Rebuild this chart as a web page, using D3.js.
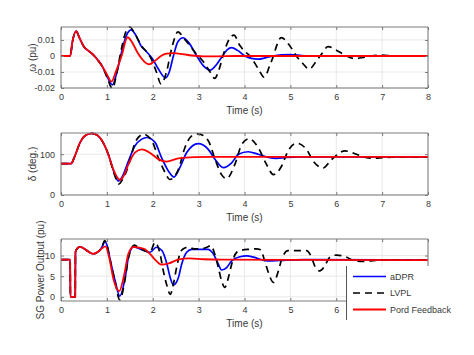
<!DOCTYPE html>
<html><head><meta charset="utf-8">
<script src="https://cdn.jsdelivr.net/npm/d3@7"></script>
<style>
html,body{margin:0;padding:0;background:#fff;}
svg{display:block;font-family:"Liberation Sans",Arial,sans-serif;}
</style></head>
<body>
<svg id="chart" width="474" height="355"></svg>
<script>
// ---------------- DATA ----------------
const timeTicks = [0,1,2,3,4,5,6,7,8];
const omegaTicks = [-0.02,-0.01,0,0.01];
const omegaTickLabels = ["-0.02","-0.01","0","0.01"];
const deltaTicks = [0,100];
const powerTicks = [0,5,10];
const seriesNames = ["aDPR","LVPL","Pord Feedback"];
const axisLabels = ["ω (pu)","δ (deg.)","SG Power Output (pu)"];
const xLabel = "Time (s)";

// rotor speed deviation (pu)
const omega_aDPR = [[0,0],[0.2,0],[0.25,0.009],[0.33,0.0155],[0.4,0.0115],[0.5,0.0058],[0.6,0.0032],[0.7,0.0008],[0.8,-0.0025],[0.9,-0.0065],[1.0,-0.0125],[1.12,-0.018],[1.22,-0.01],[1.3,0],[1.42,0.0125],[1.53,0.0163],[1.62,0.0135],[1.75,0.006],[1.87,0.0025],[2.0,-0.002],[2.12,-0.008],[2.28,-0.0137],[2.36,-0.01],[2.45,0],[2.55,0.009],[2.66,0.0114],[2.78,0.0085],[2.96,0],[3.1,-0.006],[3.26,-0.0088],[3.4,-0.005],[3.52,0],[3.62,0.0038],[3.72,0.0052],[3.85,0.0035],[4.01,0],[4.15,-0.0015],[4.3,-0.002],[4.45,-0.0012],[4.62,0],[4.8,0.0007],[5.0,0.0009],[5.25,0.0003],[5.5,0],[8,0]];
const omega_LVPL = [[0,0],[0.2,0],[0.25,0.009],[0.33,0.0155],[0.4,0.0115],[0.5,0.0058],[0.6,0.0032],[0.7,0.0008],[0.8,-0.0025],[0.9,-0.0065],[1.0,-0.013],[1.12,-0.0203],[1.22,-0.01],[1.3,0.002],[1.4,0.014],[1.5,0.0181],[1.6,0.0145],[1.75,0.0065],[1.87,0.0025],[1.97,-0.002],[2.08,-0.01],[2.18,-0.0175],[2.3,-0.01],[2.41,0.0044],[2.55,0.015],[2.68,0.011],[2.78,0.0075],[2.92,0.0023],[3.1,-0.0035],[3.25,-0.01],[3.35,-0.014],[3.45,-0.008],[3.53,0],[3.64,0.009],[3.77,0.013],[3.9,0.0065],[4.0,0.003],[4.12,0],[4.3,-0.008],[4.43,-0.0133],[4.55,-0.006],[4.63,0],[4.7,0.0063],[4.8,0.0115],[4.99,0.0063],[5.13,0],[5.28,-0.005],[5.41,-0.0082],[5.57,-0.003],[5.68,0.0012],[5.82,0.0058],[6.04,0.003],[6.22,0],[6.4,-0.0016],[6.62,-0.0008],[6.95,0.0005],[7.3,0],[8,0]];
const omega_Pord = [[0,0],[0.2,0],[0.25,0.009],[0.33,0.0155],[0.4,0.0115],[0.5,0.0058],[0.6,0.0032],[0.7,0.0008],[0.8,-0.0025],[0.9,-0.0065],[1.0,-0.0115],[1.1,-0.016],[1.2,-0.0095],[1.32,0],[1.45,0.0117],[1.55,0.0085],[1.68,0.0015],[1.8,-0.003],[1.92,-0.0052],[2.05,-0.003],[2.18,0],[2.3,0.0014],[2.45,0.0018],[2.65,0.0012],[2.85,0.0003],[3.1,-0.0002],[3.4,-0.0002],[3.8,0],[8,0]];

// rotor angle (deg.)
const delta_aDPR = [[0,77],[0.22,77],[0.3,95],[0.41,127],[0.52,145],[0.67,151],[0.8,146],[0.89,134],[1.03,100],[1.15,58],[1.25,34],[1.32,42],[1.47,83],[1.61,120],[1.76,137],[1.87,141],[2.05,129],[2.19,92],[2.34,59],[2.46,44],[2.59,67],[2.74,104],[2.99,126],[3.21,112],[3.36,87],[3.54,67],[3.72,79],[3.87,100],[4.08,106],[4.3,100],[4.5,93],[4.7,90],[4.9,92],[5.2,93.5],[8,93.5]];
const delta_LVPL = [[0,77],[0.22,77],[0.3,95],[0.41,127],[0.52,145],[0.67,151],[0.8,146],[0.89,134],[1.03,100],[1.15,55],[1.26,27],[1.35,40],[1.43,59],[1.54,100],[1.61,128],[1.8,149],[1.98,133],[2.12,92],[2.27,55],[2.37,38],[2.56,63],[2.7,116],[2.85,145],[2.99,150],[3.21,133],[3.36,87],[3.5,50],[3.61,40],[3.79,75],[3.94,124],[4.1,138],[4.3,116],[4.48,75],[4.63,50],[4.81,71],[4.95,108],[5.13,127],[5.35,112],[5.5,83],[5.71,66],[5.9,87],[6.19,108],[6.44,100],[6.62,93],[6.8,90],[7.05,92],[7.4,93.5],[8,93.5]];
const delta_Pord = [[0,77],[0.22,77],[0.3,95],[0.41,127],[0.52,145],[0.67,151],[0.8,146],[0.89,134],[1.03,100],[1.15,60],[1.29,37],[1.38,50],[1.47,75],[1.61,104],[1.76,112],[1.9,106],[1.98,100],[2.12,88],[2.3,82],[2.56,90],[2.9,93],[3.3,93.5],[8,93.5]];

// SG power output (pu)
const power_aDPR = [[0,9],[0.2,9],[0.205,0],[0.31,0],[0.315,10.8],[0.36,11.8],[0.42,12.1],[0.55,11.3],[0.7,10.4],[0.83,11.1],[0.9,12.2],[0.96,13.4],[1.0,12.6],[1.07,9.1],[1.18,3.9],[1.28,0.2],[1.4,4.7],[1.47,9.6],[1.58,12.1],[1.72,11.6],[1.94,10.8],[2.08,12.0],[2.2,11.2],[2.31,7.9],[2.38,4.7],[2.45,2.9],[2.56,4.7],[2.63,7.9],[2.74,10.8],[2.85,11.5],[3.0,11.5],[3.2,11.5],[3.32,10.4],[3.43,7.9],[3.5,6.5],[3.61,7.1],[3.72,8.7],[3.9,9.7],[4.05,9.9],[4.2,9.6],[4.4,8.9],[4.6,8.7],[4.9,8.9],[5.3,9.0],[8,8.9]];
const power_LVPL = [[0,9],[0.2,9],[0.205,0],[0.31,0],[0.315,10.8],[0.36,11.8],[0.42,12.1],[0.55,11.3],[0.7,10.4],[0.83,11.1],[0.9,12.2],[0.95,13.6],[1.0,12.6],[1.07,9.0],[1.18,3.5],[1.28,-0.7],[1.4,4.5],[1.47,9.4],[1.6,12.5],[1.72,11.7],[1.94,10.8],[2.05,13.2],[2.16,10.4],[2.23,6.3],[2.31,2.7],[2.38,0.6],[2.45,3.1],[2.52,7.1],[2.59,10.4],[2.66,11.6],[2.78,12.0],[2.9,11.6],[3.05,11.6],[3.18,12.0],[3.27,12.4],[3.35,10.4],[3.43,7.1],[3.5,3.9],[3.57,2.3],[3.65,4.7],[3.72,7.9],[3.83,10.8],[3.94,11.3],[4.1,11.5],[4.25,11.6],[4.35,11.4],[4.44,8.7],[4.52,5.9],[4.63,3.5],[4.74,6.3],[4.81,9.1],[4.95,11.2],[5.15,11.2],[5.35,11.2],[5.46,9.6],[5.53,7.5],[5.64,6.3],[5.75,7.5],[5.86,9.6],[6.0,10.1],[6.23,9.6],[6.4,8.7],[6.6,8.6],[6.85,8.8],[7.1,8.9],[8,8.9]];
const power_Pord = [[0,9],[0.2,9],[0.205,0],[0.31,0],[0.315,10.8],[0.36,11.8],[0.42,12.1],[0.55,11.3],[0.7,10.4],[0.83,11.1],[0.9,11.8],[0.97,12.2],[1.05,9.5],[1.15,4],[1.27,1.4],[1.38,5.5],[1.47,10.5],[1.58,12.1],[1.7,11.9],[1.83,11.5],[1.95,10.3],[2.05,9.0],[2.19,7.8],[2.35,8.1],[2.55,9.0],[2.8,9.3],[3.1,9.1],[3.5,9.0],[8,8.9]];

// ---------------- LAYOUT / STYLE ----------------
const svg = d3.select("#chart");
const L = 61, R = 428;
const colors = ["#0000ff","#000000","#ff0000"];
const dashes = [null,"7,5",null];
const widths = [1.7,1.7,1.8];
const legendLeft = 346.5, legendTop = 266;

const panels = [
  {top:27, bottom:88, domain:[-0.02,0.0181], ticks:omegaTicks, tickLabels:omegaTickLabels,
   series:[omega_aDPR,omega_LVPL,omega_Pord], ylab:axisLabels[0], ylabX:36, legend:false},
  {top:133, bottom:195, domain:[0,152], ticks:deltaTicks, tickLabels:deltaTicks.map(String),
   series:[delta_aDPR,delta_LVPL,delta_Pord], ylab:axisLabels[1], ylabX:36, legend:false},
  {top:239, bottom:301, domain:[-1,14], ticks:powerTicks, tickLabels:powerTicks.map(String),
   series:[power_aDPR,power_LVPL,power_Pord], ylab:axisLabels[2], ylabX:43.5, legend:true}
];

const x = d3.scaleLinear().domain([0,8]).range([L,R]);
const axisCol = "#7a7a7a", textCol = "#3a3a3a", gridCol = "#e3e3e3";

panels.forEach((p,i) => {
  const y = d3.scaleLinear().domain(p.domain).range([p.bottom,p.top]);
  const g = svg.append("g");
  // grid
  g.append("g").selectAll("line").data(timeTicks).join("line")
    .attr("x1",d=>x(d)).attr("x2",d=>x(d)).attr("y1",p.top).attr("y2",p.bottom)
    .attr("stroke",gridCol).attr("stroke-width",0.8);
  g.append("g").selectAll("line").data(p.ticks).join("line")
    .attr("x1",L).attr("x2",R).attr("y1",d=>y(d)).attr("y2",d=>y(d))
    .attr("stroke",gridCol).attr("stroke-width",0.8);

  // clip
  const cid = "clip"+i;
  svg.append("clipPath").attr("id",cid).append("rect")
    .attr("x",L).attr("y",p.top-1).attr("width",R-L).attr("height",p.bottom-p.top+2);

  // lines
  const line = d3.line().x(d=>x(d[0])).y(d=>y(d[1])).curve(d3.curveMonotoneX);
  p.series.forEach((s,k) => {
    g.append("path").datum(s).attr("d",line).attr("fill","none")
      .attr("clip-path",`url(#${cid})`)
      .attr("stroke",colors[k]).attr("stroke-width",widths[k])
      .attr("stroke-dasharray",dashes[k]).attr("stroke-linejoin","round");
  });

  // axes (box with inward ticks); labels hidden where the legend covers them
  const xfmt = d => (p.legend && x(d) > legendLeft) ? "" : d3.format("d")(d);
  const xb = g.append("g").attr("transform",`translate(0,${p.bottom})`)
    .call(d3.axisBottom(x).tickValues(timeTicks).tickSize(-3).tickPadding(6).tickFormat(xfmt));
  const xt = g.append("g").attr("transform",`translate(0,${p.top})`)
    .call(d3.axisTop(x).tickValues(timeTicks).tickSize(-3).tickFormat(""));
  const yl = g.append("g").attr("transform",`translate(${L},0)`)
    .call(d3.axisLeft(y).tickValues(p.ticks).tickSize(-3).tickPadding(6).tickFormat((d,j)=>p.tickLabels[j]));
  const yr = g.append("g").attr("transform",`translate(${R},0)`)
    .call(d3.axisRight(y).tickValues(p.ticks).tickSize(-3).tickFormat(""));
  [xb,xt,yl,yr].forEach(a => {
    a.select(".domain").attr("stroke",axisCol).attr("stroke-width",1);
    a.selectAll(".tick line").attr("stroke",axisCol);
    a.selectAll("text").attr("fill",textCol).style("font-size","9px")
      .style("font-family","'Liberation Sans',Arial,sans-serif");
  });
  xb.selectAll(".tick text").filter(function(){return this.textContent==="";}).remove();
  xb.selectAll(".domain").attr("d",`M${L},0H${R}`);
  xt.selectAll(".domain").attr("d",`M${L},0H${R}`);
  yl.selectAll(".domain").attr("d",`M0,${p.bottom}V${p.top}`);
  yr.selectAll(".domain").attr("d",`M0,${p.bottom}V${p.top}`);

  // x label
  g.append("text").attr("x",(L+R)/2).attr("y",p.bottom+25.5).attr("text-anchor","middle")
    .attr("fill",textCol).style("font-size","10px").text(xLabel);
  // y label
  const cy = (p.top+p.bottom)/2;
  g.append("text").attr("transform",`translate(${p.ylabX},${cy}) rotate(-90)`)
    .attr("text-anchor","middle").attr("fill",textCol).style("font-size","10px").text(p.ylab);
});

// legend (overlaps lower right of bottom panel)
const lg = svg.append("g");
lg.append("rect").attr("x",legendLeft).attr("y",legendTop).attr("width",128).attr("height",56).attr("fill","#fff");
lg.append("line").attr("x1",legendLeft).attr("x2",legendLeft).attr("y1",legendTop).attr("y2",320)
  .attr("stroke","#555").attr("stroke-width",1);
const legY = [276.5,293,309.5];
seriesNames.forEach((n,k) => {
  lg.append("line").attr("x1",353).attr("x2",386).attr("y1",legY[k]).attr("y2",legY[k])
    .attr("stroke",colors[k]).attr("stroke-width",widths[k]).attr("stroke-dasharray",dashes[k]);
  lg.append("text").attr("x",390).attr("y",legY[k]+3.3).attr("fill",textCol)
    .style("font-size","9px").text(n);
});
</script>
</body></html>
